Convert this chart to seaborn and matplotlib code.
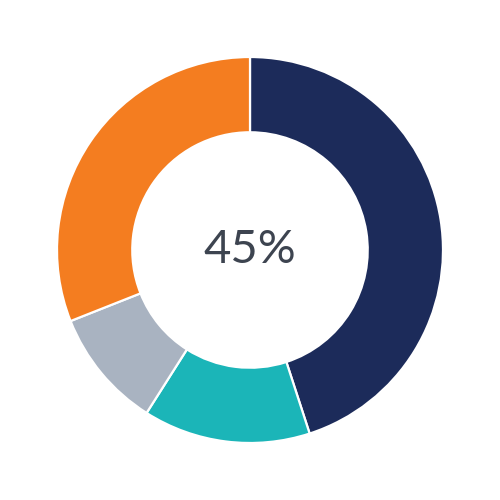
import matplotlib
matplotlib.use("Agg")
import matplotlib.pyplot as plt
import seaborn as sns

# slice shares, clockwise from 12 o'clock
labels = ["Navy", "Teal", "Gray", "Orange"]
shares = [45, 14, 10, 31]
colors = ["#1c2b5a", "#1bb5b8", "#a9b3c1", "#f47d20"]
center_text = "45%"

sns.set_theme(style="white")
plt.rcParams["font.family"] = ["Lato", "DejaVu Sans"]

fig = plt.figure(figsize=(5, 5), dpi=100)
ax = fig.add_axes([0, 0, 1, 1])

ax.pie(shares, colors=colors, startangle=90, counterclock=False,
       radius=1.0,
       wedgeprops=dict(width=0.39, edgecolor="white", linewidth=1.6))

ax.text(0, 0, center_text, ha="center", va="center",
        fontsize=34, color="#3d4450")

lim = 250 / 193
ax.set_xlim(-lim, lim)
ax.set_ylim(-lim, lim)
ax.set_aspect("equal")
ax.axis("off")

fig.savefig("out.png", dpi=100, facecolor="white")
